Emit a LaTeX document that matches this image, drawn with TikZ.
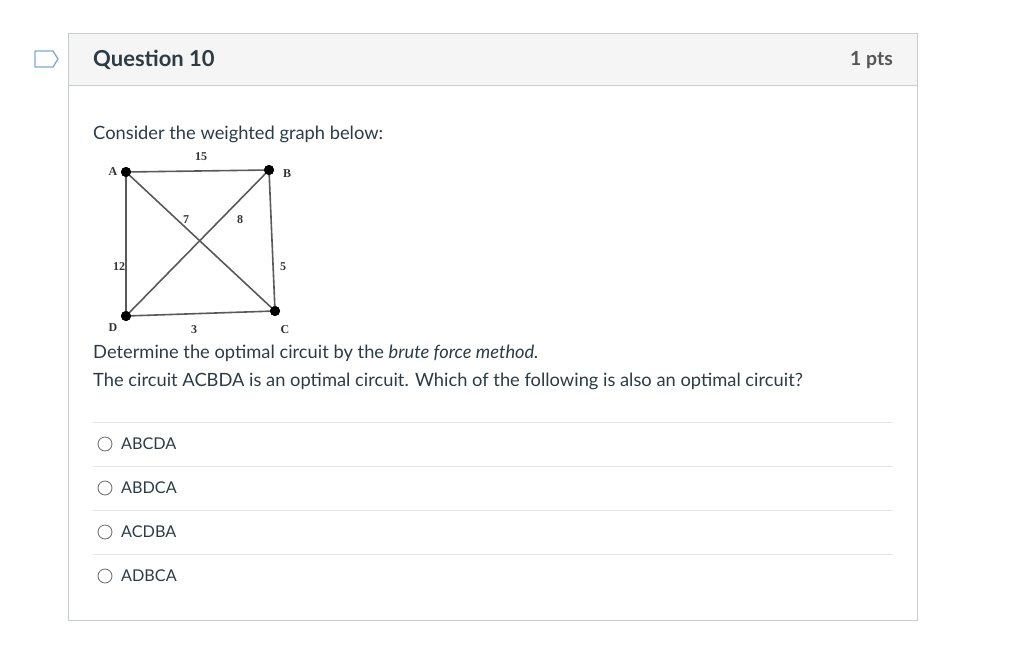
\documentclass[tikz,border=0pt]{standalone}
\usepackage{fontspec}
\setmainfont{Lato}
\newfontfamily\graphfont{Liberation Serif}
\usetikzlibrary{positioning}

\definecolor{boxline}{HTML}{C7CDD1}
\definecolor{headfill}{HTML}{F5F5F5}
\definecolor{inktext}{HTML}{2D3B45}
\definecolor{ptsgray}{HTML}{555555}
\definecolor{flagblue}{HTML}{7FA8D1}
\definecolor{sepline}{HTML}{E2E5E7}

\tikzstyle{vertex}=[circle, fill=black, inner sep=0pt, minimum size=10pt]
\tikzstyle{edge}=[draw=black!65, line width=1.6pt]
\tikzstyle{wlabel}=[font=\graphfont\fontsize{12}{14}\selectfont\bfseries, text=black!80, inner sep=1pt]
\tikzstyle{bodytext}=[anchor=west, inner sep=0pt, text=inktext, font=\fontsize{18.3}{22}\selectfont]
\tikzstyle{option}=[anchor=west, inner sep=0pt, text=inktext, font=\fontsize{16.2}{19}\selectfont]
\tikzstyle{radio}=[circle, draw=black!60, line width=0.8pt, inner sep=0pt, minimum size=14pt]

\begin{document}
\begin{tikzpicture}[x=1pt, y=-1pt]
  \useasboundingbox (0,0) rectangle (1024,645);

  % question box and header
  \draw[boxline, line width=1pt] (68,33) rectangle (917,620);
  \draw[boxline, line width=1pt, fill=headfill] (68,33) rectangle (917,85);
  \draw[flagblue, line width=1.3pt, line join=round] (35,51) -- (53,51) -- (58,59) -- (53,67) -- (35,67) -- cycle;

  \node (title) at (93,60) [anchor=west, inner sep=0pt, text=inktext, font=\fontsize{22}{26}\selectfont\bfseries] {Question 10};
  \node (points) at (893,60) [anchor=east, inner sep=0pt, text=ptsgray, font=\fontsize{19.4}{23}\selectfont\bfseries] {1 pts};

  \node (intro) at (93,134) [bodytext] {Consider the weighted graph below:};

  % the graph
  \node (A) at (126,172) [vertex] {};
  \node (B) at (269,170) [vertex] {};
  \node (C) at (275,311) [vertex] {};
  \node (D) at (126,316) [vertex] {};

  \draw[edge] (A.center) -- (B.center);
  \draw[edge] (B.center) -- (C.center);
  \draw[edge] (C.center) -- (D.center);
  \draw[edge] (D.center) -- (A.center);
  \draw[edge] (A.center) -- (C.center);
  \draw[edge] (B.center) -- (D.center);
  \foreach \v in {A,B,C,D} \node at (\v) [vertex] {};

  \node at (113,172) [wlabel] {A};
  \node at (287,174) [wlabel] {B};
  \node at (285,330) [wlabel] {C};
  \node at (113,328) [wlabel] {D};
  \node at (201,157) [wlabel] {15};
  \node at (186,220) [wlabel] {7};
  \node at (240,220) [wlabel] {8};
  \node at (119,267) [wlabel] {12};
  \node at (283,267) [wlabel] {5};
  \node at (194,330) [wlabel] {3};

  \node (task) at (93,353) [bodytext] {Determine the optimal circuit by the \textit{brute force method.}};
  \node (ask) at (93,381) [bodytext] {The circuit ACBDA is an optimal circuit. Which of the following is also an optimal circuit?};

  % answers
  \foreach \y in {422,466,510,554} \draw[sepline, line width=1pt] (93,\y) -- (893,\y);
  \foreach \y/\txt [count=\i] in {444/ABCDA, 488/ABDCA, 532/ACDBA, 576/ADBCA} {
    \node (radio\i) at (105,\y) [radio] {};
    \node (answer\i) at (121,\y) [option] {\txt};
  }
\end{tikzpicture}
\end{document}
